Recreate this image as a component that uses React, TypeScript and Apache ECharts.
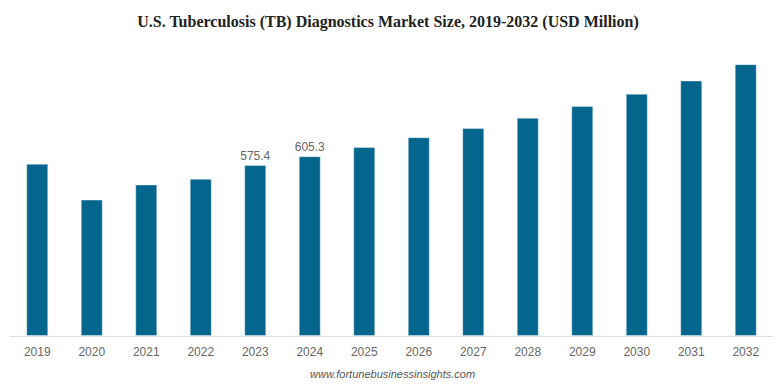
import React, { useEffect, useRef } from "react";
import * as echarts from "echarts";

const categories = ["2019", "2020", "2021", "2022", "2023", "2024", "2025", "2026", "2027", "2028", "2029", "2030", "2031", "2032"];
const values = [579.6, 459.2, 510.1, 529.3, 575.4, 605.3, 636.2, 669.4, 700.1, 734.5, 774.1, 815.3, 860.2, 915.4];
const labeledYears = ["2023", "2024"];

const titleText = "U.S. Tuberculosis (TB) Diagnostics Market Size, 2019-2032 (USD Million)";
const sourceText = "www.fortunebusinessinsights.com";

export default function App() {
  const ref = useRef<HTMLDivElement>(null);
  useEffect(() => {
    document.body.style.margin = "0";
    if (!ref.current) return;
    const chart = echarts.init(ref.current, undefined, { renderer: "svg" });
    chart.setOption({
      animation: false,
      backgroundColor: "#ffffff",
      title: {
        text: titleText,
        left: "center",
        top: 8,
        textStyle: {
          fontFamily: "Liberation Serif",
          fontWeight: "bold",
          fontSize: 16,
          color: "#222222",
        },
      },
      graphic: [
        {
          type: "text",
          left: 310,
          top: 368,
          style: {
            text: sourceText,
            fontFamily: "Liberation Sans",
            fontStyle: "italic",
            fontSize: 11,
            fill: "#555555",
          },
        },
      ],
      grid: { left: 10, right: 3, top: 39, bottom: 52 },
      xAxis: {
        type: "category",
        data: categories,
        axisLine: { lineStyle: { color: "#dddddd" } },
        axisTick: { show: false },
        axisLabel: {
          color: "#666666",
          fontFamily: "Liberation Sans",
          fontSize: 12,
          margin: 10,
        },
      },
      yAxis: {
        type: "value",
        min: 0,
        max: 1000,
        show: false,
        splitLine: { show: false },
      },
      series: [
        {
          type: "bar",
          barWidth: 22,
          data: categories.map((c, i) => ({
            value: values[i],
            label: {
              show: labeledYears.includes(c),
              position: "top",
              color: "#666666",
              fontFamily: "Liberation Sans",
              fontSize: 12,
              distance: 3,
            },
          })),
          itemStyle: {
            color: "#05668D",
            borderColor: "rgba(255,255,255,0.35)",
            borderWidth: 1,
          },
        },
      ],
    });
    return () => chart.dispose();
  }, []);
  return <div ref={ref} style={{ width: 776, height: 388 }} />;
}
